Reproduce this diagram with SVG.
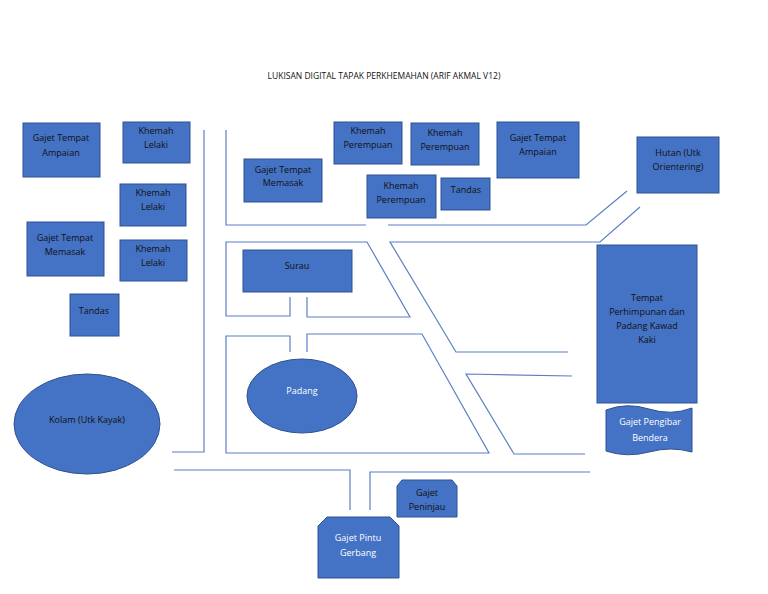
<svg xmlns="http://www.w3.org/2000/svg" width="768" height="594" viewBox="0 0 768 594">
<style>
.s{fill:#4472C4;stroke:#2F528F;stroke-width:1}
.r{fill:none;stroke:#5B7FC4;stroke-width:1.2}
text{font-family:"Open Sans","Liberation Sans",sans-serif;font-size:9px;text-anchor:middle;fill:#111}
.w{fill:#fff}
</style>
<rect width="768" height="594" fill="#fff"/>
<text x="384" y="79" style="font-size:8.5px">LUKISAN DIGITAL TAPAK PERKHEMAHAN (ARIF AKMAL V12)</text>
<g id="roads" class="r">
<path d="M204,130V452H172"/>
<path d="M226,130V225H366M388,225H586L627,191"/>
<path d="M290,297V316H226V242H367L410,317H307V297"/>
<path d="M640,207L600,242H390L456,352H568"/>
<path d="M572,376L466,374L514,454H585"/>
<path d="M290,352V336H226V453H489L422,334H307V352"/>
<path d="M174,470H350V510M370,510V472H590"/>
</g>
<g id="ampaian1"><rect class="s" x="23" y="123" width="77" height="54"/><text x="61" y="141">Gajet Tempat</text><text x="61" y="156">Ampaian</text></g>
<g id="lelaki1"><rect class="s" x="123" y="122" width="67" height="41"/><text x="156" y="134">Khemah</text><text x="156" y="148">Lelaki</text></g>
<g id="lelaki2"><rect class="s" x="120" y="184" width="66" height="42"/><text x="153" y="196">Khemah</text><text x="153" y="210">Lelaki</text></g>
<g id="lelaki3"><rect class="s" x="120" y="240" width="67" height="41"/><text x="153" y="252">Khemah</text><text x="153" y="266">Lelaki</text></g>
<g id="memasak1"><rect class="s" x="27" y="222" width="77" height="54"/><text x="65" y="241">Gajet Tempat</text><text x="65" y="255">Memasak</text></g>
<g id="tandas1"><rect class="s" x="70" y="294" width="49" height="42"/><text x="94" y="314">Tandas</text></g>
<g id="kolam"><ellipse class="s" cx="87" cy="424" rx="73" ry="50"/><text x="87" y="423">Kolam (Utk Kayak)</text></g>
<g id="memasak2"><rect class="s" x="244" y="159" width="78" height="43"/><text x="283" y="173">Gajet Tempat</text><text x="283" y="186">Memasak</text></g>
<g id="perempuan1"><rect class="s" x="334" y="122" width="68" height="42"/><text x="368" y="134">Khemah</text><text x="368" y="148">Perempuan</text></g>
<g id="perempuan2"><rect class="s" x="411" y="123" width="68" height="42"/><text x="445" y="136">Khemah</text><text x="445" y="150">Perempuan</text></g>
<g id="ampaian2"><rect class="s" x="497" y="122" width="82" height="56"/><text x="538" y="141">Gajet Tempat</text><text x="538" y="155">Ampaian</text></g>
<g id="perempuan3"><rect class="s" x="367" y="175" width="69" height="43"/><text x="401" y="189">Khemah</text><text x="401" y="203">Perempuan</text></g>
<g id="tandas2"><rect class="s" x="441" y="178" width="49" height="32"/><text x="466" y="193">Tandas</text></g>
<g id="hutan"><rect class="s" x="637" y="137" width="82" height="56"/><text x="678" y="156">Hutan (Utk</text><text x="678" y="170">Orientering)</text></g>
<g id="surau"><rect class="s" x="243" y="250" width="109" height="42"/><text x="297" y="269">Surau</text></g>
<g id="padang"><ellipse class="s" cx="302" cy="396" rx="55" ry="37"/><text class="w" x="302" y="394">Padang</text></g>
<g id="perhimpunan"><rect class="s" x="597" y="245" width="100" height="158"/><text x="647" y="301">Tempat</text><text x="647" y="315">Perhimpunan dan</text><text x="647" y="329">Padang Kawad</text><text x="647" y="343">Kaki</text></g>
<g id="bendera"><path class="s" d="M606,410Q627,402 649,409T692,408V452Q671,446 649,452T606,451Z"/><text class="w" x="650" y="425">Gajet  Pengibar</text><text class="w" x="650" y="441">Bendera</text></g>
<g id="peninjau"><path class="s" d="M402,480H452L457,486V517H397V486Z"/><text x="427" y="496">Gajet</text><text x="427" y="510">Peninjau</text></g>
<g id="pintu"><path class="s" d="M327,517H390L399,526V578H318V526Z"/><text class="w" x="358" y="541">Gajet Pintu</text><text class="w" x="358" y="556">Gerbang</text></g>
</svg>
